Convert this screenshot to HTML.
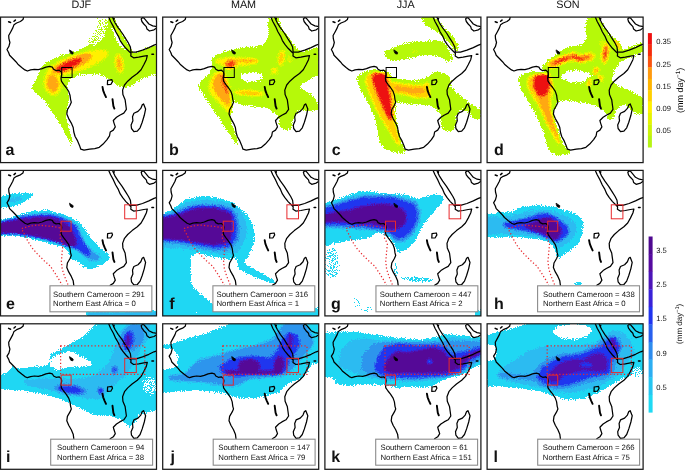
<!DOCTYPE html><html><head><meta charset="utf-8"><title>Figure</title><style>html,body{margin:0;padding:0;background:#fff}svg{display:block}text{font-family:"Liberation Sans",sans-serif;fill:#111;text-rendering:geometricPrecision}</style></head><body>
<svg width="685" height="470" viewBox="0 0 685 470">
<defs>
<filter id="warm" filterUnits="userSpaceOnUse" x="-10" y="-10" width="180" height="170" color-interpolation-filters="sRGB"><feGaussianBlur in="SourceGraphic" stdDeviation="1.3" result="b"/><feTurbulence type="fractalNoise" baseFrequency="0.75" numOctaves="2" seed="3" result="t"/><feDisplacementMap in="b" in2="t" scale="4" xChannelSelector="R" yChannelSelector="G" result="d"/><feTurbulence type="fractalNoise" baseFrequency="0.95" numOctaves="1" seed="11" result="t2"/><feColorMatrix in="t2" type="matrix" values="1 0 0 0 0 1 0 0 0 0 1 0 0 0 0 0 0 0 0 1" result="n2"/><feComposite in="d" in2="n2" operator="arithmetic" k1="0" k2="1" k3="0.16" k4="-0.080" result="sp"/><feComponentTransfer in="sp"><feFuncR type="discrete" tableValues="1.000 0.714 0.839 1.000 1.000 1.000 0.980 0.957 0.933"/><feFuncG type="discrete" tableValues="1.000 0.980 0.973 0.949 0.816 0.659 0.455 0.251 0.067"/><feFuncB type="discrete" tableValues="1.000 0.039 0.000 0.000 0.000 0.071 0.071 0.059 0.067"/></feComponentTransfer></filter>
<filter id="cool" filterUnits="userSpaceOnUse" x="-10" y="-10" width="180" height="170" color-interpolation-filters="sRGB"><feGaussianBlur in="SourceGraphic" stdDeviation="1.1" result="b"/><feTurbulence type="fractalNoise" baseFrequency="0.75" numOctaves="2" seed="3" result="t"/><feDisplacementMap in="b" in2="t" scale="3.5" xChannelSelector="R" yChannelSelector="G" result="d"/><feTurbulence type="fractalNoise" baseFrequency="0.95" numOctaves="1" seed="11" result="t2"/><feColorMatrix in="t2" type="matrix" values="1 0 0 0 0 1 0 0 0 0 1 0 0 0 0 0 0 0 0 1" result="n2"/><feComposite in="d" in2="n2" operator="arithmetic" k1="0" k2="1" k3="0.16" k4="-0.080" result="sp"/><feComponentTransfer in="sp"><feFuncR type="discrete" tableValues="1.000 0.122 0.173 0.180 0.165 0.125 0.235 0.314 0.337"/><feFuncG type="discrete" tableValues="1.000 0.847 0.737 0.588 0.400 0.212 0.133 0.063 0.039"/><feFuncB type="discrete" tableValues="1.000 0.953 0.949 0.933 0.933 0.941 0.831 0.682 0.596"/></feComponentTransfer></filter>
<clipPath id="clip"><rect x="0" y="0" width="156.0" height="145.5"/></clipPath>
<g id="coast" fill="none" stroke="#000" stroke-linejoin="round" stroke-linecap="round"><path d="M23.1,0 22.5,2.5 19.9,4.4 16.1,5.9 13.5,7.6 12.3,10.8 10.3,14.6 8.2,18.4 8.4,21.6 9.4,25.4 8.4,29.3 6.5,32.4 8.2,35.6 9.1,38.2 12.3,41.4 15.4,44.6 17.4,47.1 21.2,50.3 24.4,52.8 26.9,53.9 30.1,52.8 33.9,52.2 37.8,52.6 41.6,51.6 45.4,50 49.2,49.3 51.8,50 53.1,52.2 55.6,53.5 58.8,53.1 60.7,54.8 61.2,57 60.5,60.9 60.9,64 63.1,67.2 65.6,70.4 68.2,74.3 69.5,78.1 70.1,82.5 70.8,85.1 69.5,88.1 66.9,92.6 66.3,97 68.2,101.5 70.8,106 72.7,110.4 73.3,114.9 74.6,119.4 77.1,123.8 79,128.3 80.3,132.1 83.5,133 89.2,132.1 94.3,131.5 98.8,130.2 102.6,127 106.5,122.5 109,118.7 109.7,114.9 112.8,113 114.8,109.8 113.5,106 112.8,103.4 116,100.2 119.2,98.1 123.3,96 125.9,92.2 125.3,87.7 124.6,82.6 122.4,77.5 122.1,73 124,67.9 127.2,64.1 131.6,60.2 136.8,56.4 140.6,52.6 143.3,47.7 145.8,42.6 146.8,38.6 143.3,39.1 138.2,40.1 133.1,40.7 130.3,38.8 130.5,36.3 128.6,34.4 125.4,31.2 122.2,27.3 119.7,23.5 117.8,19 115.2,14.6 112.9,9.5 110.1,4.4 108.2,0 M112,0 113.3,3.1 114.6,5.7 117.8,10.8 121.6,15.9 124.8,21 128,26.1 129.9,29.9 130.5,35 135.6,35 142,33.1 148.4,30.5 153.5,28 156.5,27 M113.3,3.1 113.7,1.3 M140.7,1.8 141.4,4.4 143.3,6.9 145.8,9.5 146.5,12 149,13.9 153.5,12.7 156.5,10.6 M140.7,1.8 141.9,0.6 143.3,0.8 145.8,3.7 148.4,6.9 152.2,8.8 156.5,9.6 M143.1,86.9 145.1,92 143.8,98.2 141.7,105.1 139.6,110.7 136.8,114.1 133.4,114.5 131,111.4 130.6,107.9 132.4,103.7 132,99.6 133.4,96.1 137.5,94.3 140.3,91.3 141.7,87.8 143.1,86.9 M107.1,63.2 111.4,62.6 112,64.5 110.3,67.4 106.9,67.6 107.1,63.2" stroke-width="1.25"/><path d="M102,69.8 102.7,73.5 104.1,77 105.5,80 M112,82 112.5,86 112.9,89 113.9,91.5" stroke-width="1.9"/><path d="M8.1,4.6 10.1,5.4 M13.5,4.2 14.9,3 M151.4,37.2 153,37.2" stroke-width="1.5"/><path d="M69.3,33 70.8,34 72.7,35.3 72.4,37 70.4,36.6 69.5,35Z" fill="#000" stroke-width="0.8"/></g>
</defs>
<rect width="685" height="470" fill="#fff"/>
<text x="81.3" y="7.9" font-size="10.8" text-anchor="middle" fill="#000">DJF</text>
<text x="243.5" y="7.9" font-size="10.8" text-anchor="middle" fill="#000">MAM</text>
<text x="405.7" y="7.9" font-size="10.8" text-anchor="middle" fill="#000">JJA</text>
<text x="567.9" y="7.9" font-size="10.8" text-anchor="middle" fill="#000">SON</text>
<g transform="translate(0.5,17.1)">
<g clip-path="url(#clip)">
<g filter="url(#warm)"><rect x="-30" y="-30" width="220" height="210" fill="#000"/>
<polygon points="29.9,71.0 34.5,62.8 39.3,53.4 41.5,47.6 51.0,41.7 62.5,37.0 76.5,33.5 88.5,27.7 97.5,25.3 103.5,21.0 105.5,11.0 107.5,1.0 110.5,1.0 111.5,11.0 114.5,19.0 121.1,30.0 130.5,37.0 144.5,31.4 157.5,27.5 157.5,57.0 149.5,59.5 140.5,63.0 132.5,68.0 125.5,72.0 116.5,68.6 107.1,61.6 97.5,58.0 88.5,58.0 76.5,59.0 69.5,62.8 67.3,69.8 69.5,81.5 67.3,90.8 66.2,100.0 68.5,109.5 72.0,122.0 74.0,130.5 69.5,126.0 61.5,112.0 53.3,97.9 43.9,85.0 34.5,75.6" fill="#2a2a2a"/>
<polygon points="88.5,29.0 97.5,27.0 103.5,23.0 105.5,13.0 107.5,1.0 97.5,0.0 93.5,13.0 83.5,25.0" fill="#1b1b1b"/>
<polyline points="110.5,-2.0 113.5,7.0 118.0,15.0 122.5,23.0 127.0,30.0 130.0,35.0" fill="none" stroke="#2a2a2a" stroke-width="5.5" stroke-linecap="round" stroke-linejoin="round"/>
<polyline points="114.0,8.0 118.0,15.0 121.5,21.0" fill="none" stroke="#636363" stroke-width="1.2" stroke-linecap="round" stroke-linejoin="round"/>
<ellipse cx="76.5" cy="46.0" rx="33" ry="8.5" transform="rotate(-19 76.5 46.0)" fill="#636363"/>
<ellipse cx="52.1" cy="66.0" rx="9" ry="12.5" transform="rotate(-10 52.1 66.0)" fill="#636363"/>
<ellipse cx="118.8" cy="46.4" rx="4.5" ry="10" transform="rotate(-8 118.8 46.4)" fill="#636363"/>
<ellipse cx="71.5" cy="46.5" rx="22" ry="6" transform="rotate(-24 71.5 46.5)" fill="#9c9c9c"/>
<ellipse cx="52.1" cy="66.3" rx="6" ry="9" transform="rotate(-10 52.1 66.3)" fill="#9c9c9c"/>
<ellipse cx="118.8" cy="46.4" rx="2.2" ry="7" transform="rotate(-8 118.8 46.4)" fill="#9c9c9c"/>
<ellipse cx="68.5" cy="48.0" rx="14" ry="3.8" transform="rotate(-25 68.5 48.0)" fill="#f1f1f1"/>
</g>
<use href="#coast"/>
<rect x="61.2" y="50.4" width="10.4" height="10" fill="none" stroke="#000" stroke-width="1"/>
</g>
<rect x="0" y="0" width="156.0" height="145.5" fill="none" stroke="#1a1a1a" stroke-width="1.25"/>
<text x="4.9" y="138.3" font-size="16" font-weight="bold" fill="#000">a</text>
</g>
<g transform="translate(162.7,17.1)">
<g clip-path="url(#clip)">
<g filter="url(#warm)"><rect x="-30" y="-30" width="220" height="210" fill="#000"/>
<polygon points="34.4,70.1 37.9,63.1 46.1,56.0 49.6,50.2 47.3,43.2 53.1,37.3 62.5,33.8 76.5,30.3 92.9,29.1 102.2,25.6 105.7,16.3 104.6,6.9 105.7,-0.1 116.3,-0.1 118.6,9.3 125.6,18.6 132.6,28.0 139.6,35.0 149.0,31.5 157.0,29.1 157.0,58.4 149.0,61.9 139.6,67.7 137.1,66.9 139.5,71.6 148.8,76.3 154.7,83.3 157.0,92.6 146.5,94.9 137.1,92.6 130.1,104.3 129.0,112.5 120.8,113.6 115.0,107.8 116.1,101.9 111.4,96.1 104.4,91.5 92.8,90.3 76.4,87.9 69.4,83.3 67.0,94.9 70.6,108.9 76.4,125.3 75.2,130.0 69.4,123.0 62.4,111.3 53.0,97.3 43.7,83.3" fill="#2a2a2a"/>
<ellipse cx="89.0" cy="59.9" rx="11" ry="4.5" transform="rotate(0 89.0 59.9)" fill="#0e0e0e"/>
<polygon points="52.0,54.9 62.0,54.4 64.0,61.9 67.5,71.9 69.0,83.9 70.0,94.9 66.0,96.9 60.0,89.9 52.0,81.9 46.0,73.9 46.5,63.9" fill="#636363"/>
<polygon points="54.5,56.9 61.0,56.9 63.0,63.9 66.0,72.9 67.5,83.9 66.0,89.9 61.0,84.9 54.0,77.9 50.0,70.9 50.5,62.9" fill="#9c9c9c"/>
<polyline points="60.0,59.4 61.5,65.9 64.5,74.9" fill="none" stroke="#d4d4d4" stroke-width="3" stroke-linecap="round" stroke-linejoin="round"/>
<ellipse cx="74.0" cy="44.4" rx="22" ry="4.5" transform="rotate(0 74.0 44.4)" fill="#636363"/>
<ellipse cx="68.0" cy="46.9" rx="7.5" ry="5" transform="rotate(-20 68.0 46.9)" fill="#9c9c9c"/>
<ellipse cx="68.0" cy="46.9" rx="4" ry="2.8" transform="rotate(-20 68.0 46.9)" fill="#d4d4d4"/>
<ellipse cx="85.0" cy="43.4" rx="10" ry="1.6" transform="rotate(0 85.0 43.4)" fill="#9c9c9c"/>
<ellipse cx="87.0" cy="75.9" rx="16" ry="3" transform="rotate(3 87.0 75.9)" fill="#636363"/>
<ellipse cx="87.0" cy="75.9" rx="13" ry="1.2" transform="rotate(3 87.0 75.9)" fill="#9c9c9c"/>
<ellipse cx="118.6" cy="40.9" rx="3.5" ry="8" transform="rotate(10 118.6 40.9)" fill="#636363"/>
<ellipse cx="118.6" cy="40.9" rx="1.5" ry="5.5" transform="rotate(10 118.6 40.9)" fill="#9c9c9c"/>
<ellipse cx="111.6" cy="53.7" rx="3" ry="3.5" transform="rotate(0 111.6 53.7)" fill="#636363"/>
<ellipse cx="126.8" cy="41.9" rx="1.5" ry="3.5" transform="rotate(0 126.8 41.9)" fill="#636363"/>
</g>
<use href="#coast"/>
<rect x="61.2" y="50.4" width="10.4" height="10" fill="none" stroke="#000" stroke-width="1"/>
</g>
<rect x="0" y="0" width="156.0" height="145.5" fill="none" stroke="#1a1a1a" stroke-width="1.25"/>
<text x="6.2" y="138.3" font-size="16" font-weight="bold" fill="#000">b</text>
</g>
<g transform="translate(324.9,17.1)">
<g clip-path="url(#clip)">
<g filter="url(#warm)"><rect x="-30" y="-30" width="220" height="210" fill="#000"/>
<polygon points="58.7,35.0 69.3,29.1 83.3,24.5 99.7,23.3 111.4,22.1 120.7,25.6 125.4,35.0 130.1,42.0 123.1,45.5 116.1,40.8 104.4,38.5 92.7,39.7 78.6,43.2 66.9,44.3 59.9,40.8" fill="#2a2a2a"/>
<polygon points="95.0,-2.1 109.0,-2.1 120.7,11.6 130.1,21.0 134.8,32.6 130.1,35.0 123.1,25.6 113.7,16.3 104.4,11.6 97.3,4.6" fill="#2a2a2a"/>
<polygon points="30.6,59.9 34.1,71.6 41.2,83.3 48.2,97.3 51.7,111.3 54.0,125.3 59.8,132.3 69.2,135.8 80.9,137.0 79.7,131.2 73.9,120.7 69.2,106.6 66.9,94.9 70.4,85.6 78.5,86.8 92.6,87.9 104.2,89.1 111.2,92.6 115.9,98.5 114.8,106.6 118.3,113.6 127.6,114.8 132.3,109.0 131.1,99.6 137.0,92.6 144.0,96.1 148.6,103.1 157.0,102.0 157.0,92.6 148.6,87.9 139.3,80.9 132.3,75.1 126.4,69.3 126.4,61.1 120.6,55.2 108.9,54.1 101.9,59.9 92.6,62.2 78.5,62.2 69.2,59.9 60.3,54.1 50.5,51.7 38.8,54.1" fill="#2a2a2a"/>
<ellipse cx="128.9" cy="26.8" rx="1.6" ry="4" transform="rotate(-35 128.9 26.8)" fill="#636363"/>
<ellipse cx="89.2" cy="33.8" rx="3" ry="1.5" transform="rotate(0 89.2 33.8)" fill="#474747"/>
<polygon points="42.5,56.6 63.0,55.4 66.7,66.9 70.2,83.3 69.5,99.6 73.0,116.0 76.5,128.9 71.0,125.9 61.5,110.0 51.8,93.6 44.8,77.3 40.2,64.6" fill="#808080"/>
<polygon points="65.7,64.6 80.9,66.9 97.2,68.1 103.1,64.6 105.4,71.6 104.2,80.9 92.6,80.9 78.5,77.4 69.2,76.3" fill="#808080"/>
<polygon points="70.0,68.9 85.0,70.9 100.0,71.9 100.0,76.9 85.0,75.9 70.0,72.9" fill="#9c9c9c"/>
<polygon points="48.5,55.4 61.0,56.4 63.0,66.9 65.5,78.6 66.8,92.6 67.5,100.9 65.5,103.9 61.0,96.9 56.5,86.9 51.0,73.9 47.0,62.2" fill="#f1f1f1"/>
</g>
<use href="#coast"/>
<rect x="61.2" y="50.4" width="10.4" height="10" fill="none" stroke="#000" stroke-width="1"/>
</g>
<rect x="0" y="0" width="156.0" height="145.5" fill="none" stroke="#1a1a1a" stroke-width="1.25"/>
<text x="6.8" y="138.3" font-size="16" font-weight="bold" fill="#000">c</text>
</g>
<g transform="translate(487.1,17.1)">
<g clip-path="url(#clip)">
<g filter="url(#warm)"><rect x="-30" y="-30" width="220" height="210" fill="#000"/>
<polygon points="52.7,50.2 62.1,42.0 71.4,35.0 80.8,29.1 92.5,28.0 99.5,21.0 97.1,11.6 99.5,2.2 104.2,-2.1 111.2,-2.1 115.9,6.9 122.9,16.3 129.9,25.6 134.6,32.6 146.3,28.0 157.0,24.5 157.0,35.0 148.6,38.5 139.3,42.0 132.2,46.7 127.6,53.7 125.2,63.1 129.9,67.7 141.6,72.4 157.0,80.6 157.0,98.1 148.4,97.3 143.8,92.6 136.7,87.9 129.7,92.6 127.4,102.0 120.4,103.1 118.1,96.1 113.4,91.5 104.0,87.9 92.4,85.6 78.3,83.3 70.2,85.6 66.7,94.9 67.8,104.3 72.5,118.3 78.3,130.0 85.3,133.5 80.7,138.2 69.0,139.3 62.0,134.7 58.5,125.3 55.0,113.6 49.1,99.6 41.0,85.6 33.9,73.9 30.4,62.2 34.0,57.2 45.7,53.7 58.0,54.4" fill="#2a2a2a"/>
<ellipse cx="89.0" cy="59.4" rx="15" ry="6" transform="rotate(0 89.0 59.4)" fill="#0e0e0e"/>
<polygon points="41.1,59.4 62.5,56.6 66.5,69.3 64.2,80.9 63.5,92.6 67.0,104.3 74.5,127.9 69.5,124.9 58.6,105.3 52.8,91.3 45.8,79.6 40.0,69.3" fill="#808080"/>
<polygon points="48.1,57.7 61.0,57.0 63.0,65.8 61.1,74.9 56.5,80.9 51.0,78.3 46.5,70.3 45.8,63.4" fill="#f1f1f1"/>
<polygon points="52.0,79.9 60.0,77.9 63.0,91.9 67.0,104.9 72.0,120.9 68.0,116.9 60.0,101.9 54.0,89.9" fill="#9c9c9c"/>
<polyline points="64.0,47.4 76.0,42.4 86.0,38.9 93.0,41.9 103.0,39.4" fill="none" stroke="#808080" stroke-width="8" stroke-linecap="round" stroke-linejoin="round"/>
<polyline points="66.0,46.7 76.0,42.4 86.0,39.2 93.0,41.9 101.0,39.9" fill="none" stroke="#b8b8b8" stroke-width="4.4" stroke-linecap="round" stroke-linejoin="round"/>
<polyline points="69.0,45.4 80.0,41.4" fill="none" stroke="#f1f1f1" stroke-width="2.4" stroke-linecap="round" stroke-linejoin="round"/>
<polyline points="86.0,39.9 95.0,42.4" fill="none" stroke="#f1f1f1" stroke-width="2.4" stroke-linecap="round" stroke-linejoin="round"/>
<ellipse cx="118.2" cy="35.9" rx="3.8" ry="11" transform="rotate(8 118.2 35.9)" fill="#808080"/>
<ellipse cx="118.2" cy="36.4" rx="1.9" ry="8" transform="rotate(8 118.2 36.4)" fill="#d4d4d4"/>
<ellipse cx="114.7" cy="26.8" rx="2.5" ry="4" transform="rotate(0 114.7 26.8)" fill="#474747"/>
<ellipse cx="130.5" cy="27.4" rx="1.9" ry="6" transform="rotate(-33 130.5 27.4)" fill="#9c9c9c"/>
<ellipse cx="108.8" cy="53.7" rx="2.4" ry="4" transform="rotate(20 108.8 53.7)" fill="#9c9c9c"/>
<ellipse cx="101.8" cy="65.4" rx="1.8" ry="4" transform="rotate(10 101.8 65.4)" fill="#9c9c9c"/>
<ellipse cx="113.5" cy="60.7" rx="1.8" ry="3.5" transform="rotate(-20 113.5 60.7)" fill="#9c9c9c"/>
</g>
<use href="#coast"/>
<rect x="61.2" y="50.4" width="10.4" height="10" fill="none" stroke="#000" stroke-width="1"/>
</g>
<rect x="0" y="0" width="156.0" height="145.5" fill="none" stroke="#1a1a1a" stroke-width="1.25"/>
<text x="6.9" y="138.3" font-size="16" font-weight="bold" fill="#000">d</text>
</g>
<g transform="translate(0.5,170.4)">
<g clip-path="url(#clip)">
<g filter="url(#cool)"><rect x="-30" y="-30" width="220" height="210" fill="#000"/>
<polygon points="-2.0,26.5 8.9,23.0 20.6,21.8 32.2,21.8 33.4,25.3 27.6,30.0 20.6,33.5 11.2,37.0 -2.0,38.2" fill="#2a2a2a"/>
<ellipse cx="14.0" cy="29.1" rx="9" ry="2.5" transform="rotate(-12 14.0 29.1)" fill="#474747"/>
<polygon points="-2.0,49.9 13.5,46.4 25.2,41.7 36.9,39.4 48.6,39.4 60.3,42.9 69.7,46.4 79.0,51.1 86.0,60.4 93.1,69.8 102.4,79.1 109.4,83.8 108.3,90.8 100.1,95.5 90.7,99.0 83.7,97.8 76.7,90.8 69.7,89.6 67.3,81.5 62.7,76.8 51.0,74.5 39.3,70.9 25.2,67.4 11.2,65.1 -2.0,66.3" fill="#2a2a2a"/>
<polygon points="-2.0,51.5 22.9,45.2 46.3,42.9 62.7,46.4 76.7,54.6 81.4,65.1 86.0,74.5 93.1,81.5 100.1,86.1 97.7,90.8 88.4,89.6 79.0,81.5 74.4,78.0 67.3,76.8 58.0,73.3 41.6,68.6 22.9,65.1 -2.0,63.9" fill="#636363"/>
<polygon points="-2.0,51.8 21.0,45.9 46.3,43.6 62.7,47.1 75.5,55.1 80.0,65.1 84.0,73.6 90.0,80.6 89.0,86.6 82.0,83.6 77.0,79.1 67.3,76.6 58.0,72.8 41.6,68.2 22.9,64.7 -2.0,63.6" fill="#9c9c9c"/>
<polygon points="-2.0,52.6 18.2,48.9 34.6,46.6 51.0,46.6 63.5,51.2 71.0,57.6 74.8,67.4 76.0,75.6 67.3,75.6 58.0,71.9 43.9,68.4 27.6,64.9 11.2,62.6 -2.0,62.6" fill="#f1f1f1"/>
<polygon points="86.0,141.1 159.0,140.6 159.0,149.6 86.0,149.6" fill="#474747"/>
</g>
<use href="#coast"/>
<g transform="translate(0,-0.4)">
<rect x="60.6" y="51.2" width="10.0" height="10.0" fill="none" stroke="#e8282c" stroke-width="1"/>
<rect x="124.2" y="34.8" width="11.6" height="14.0" fill="none" stroke="#e8282c" stroke-width="1"/>
<polyline points="59.3,57.8 52.1,56.5 44.2,55.8 37,54.9 28.2,56.5 21,58.6 23.4,63.3 27.4,71.3 31.4,77.7 37,84.1 43.4,90.5 49.7,96 54.5,103.2 58.5,109.6 61.5,115" fill="none" stroke="#e8282c" stroke-width="1.25" stroke-dasharray="1.25 2.15"/>
<polyline points="60.1,60.9 59.3,67.3 62.5,73.7 61.7,81.7 60.9,91.3 61.7,99.2 64.1,106.4 67.6,115" fill="none" stroke="#e8282c" stroke-width="1.25" stroke-dasharray="1.25 2.15"/>
</g>
</g>
<rect x="49.45" y="115.4" width="101.9" height="26" fill="#fff" stroke="#8c8c8c" stroke-width="1.1"/>
<text x="52.6" y="126.35" font-size="7.78" fill="#000">Southern Cameroon = 291</text>
<text x="52.6" y="136.05" font-size="7.78" fill="#000">Northern East Africa = 0</text>
<rect x="0" y="0" width="156.0" height="145.5" fill="none" stroke="#1a1a1a" stroke-width="1.25"/>
<text x="5.6" y="138.3" font-size="16" font-weight="bold" fill="#000">e</text>
</g>
<g transform="translate(162.7,170.4)">
<g clip-path="url(#clip)">
<g filter="url(#cool)"><rect x="-30" y="-30" width="220" height="210" fill="#000"/>
<polygon points="-2.0,44.0 8.7,39.4 15.7,33.5 22.7,28.8 34.4,25.3 46.1,25.3 57.8,27.7 69.5,31.2 78.8,38.2 87.0,46.4 91.7,55.7 92.9,67.4 89.4,79.1 84.7,88.5 82.0,92.6 85.0,94.6 93.0,98.6 103.0,104.6 112.0,109.6 112.0,113.6 103.0,111.6 93.0,107.6 84.0,103.6 76.0,99.1 74.0,92.6 72.0,87.6 67.0,89.6 57.7,88.5 46.0,86.1 36.7,82.6 28.5,86.1 28.5,113.0 36.7,122.4 46.0,129.4 49.5,132.9 60.0,137.6 100.0,137.6 159.0,136.6 159.0,149.6 -2.0,149.6" fill="#2a2a2a"/>
<polygon points="-2.0,44.6 9.0,40.6 18.0,35.1 28.0,30.6 43.7,29.1 57.8,30.6 70.0,34.1 78.0,40.6 83.0,49.6 84.0,61.6 81.0,73.6 74.0,82.6 60.0,84.6 40.0,80.6 15.7,77.6 -2.0,77.6" fill="#474747"/>
<polygon points="-2.0,45.2 11.0,42.9 20.4,38.2 29.7,34.7 43.7,33.5 57.8,34.7 69.5,38.2 75.5,46.4 77.5,58.1 76.0,69.8 68.5,79.1 53.1,80.6 34.4,77.1 15.7,73.6 -2.0,72.6" fill="#636363"/>
<polygon points="-2.0,46.1 11.0,43.9 20.4,39.4 29.7,35.9 43.7,34.7 57.8,35.9 68.5,39.4 73.2,47.4 74.3,58.1 73.0,69.1 66.5,76.6 53.1,77.9 34.4,74.6 15.7,71.1 -2.0,69.9" fill="#9c9c9c"/>
<polygon points="-2.0,47.6 13.3,45.2 22.7,41.7 32.0,38.2 43.7,37.0 55.4,38.2 63.6,41.7 68.3,42.9 69.5,49.9 69.5,60.4 68.3,68.6 62.5,73.3 50.8,74.5 34.4,72.1 18.0,69.8 -2.0,68.6" fill="#f1f1f1"/>
</g>
<use href="#coast"/>
<g transform="translate(0,-0.4)">
<rect x="60.6" y="51.2" width="10.0" height="10.0" fill="none" stroke="#e8282c" stroke-width="1"/>
<rect x="124.2" y="34.8" width="11.6" height="14.0" fill="none" stroke="#e8282c" stroke-width="1"/>
<polyline points="59.3,57.8 52.1,56.5 44.2,55.8 37,54.9 28.2,56.5 21,58.6 23.4,63.3 27.4,71.3 31.4,77.7 37,84.1 43.4,90.5 49.7,96 54.5,103.2 58.5,109.6 61.5,115" fill="none" stroke="#e8282c" stroke-width="1.25" stroke-dasharray="1.25 2.15"/>
<polyline points="60.1,60.9 59.3,67.3 62.5,73.7 61.7,81.7 60.9,91.3 61.7,99.2 64.1,106.4 67.6,115" fill="none" stroke="#e8282c" stroke-width="1.25" stroke-dasharray="1.25 2.15"/>
</g>
</g>
<rect x="50.2" y="115.4" width="101.9" height="26" fill="#fff" stroke="#8c8c8c" stroke-width="1.1"/>
<text x="53.75" y="126.35" font-size="7.78" fill="#000">Southern Cameroon = 316</text>
<text x="53.75" y="136.05" font-size="7.78" fill="#000">Northern East Africa = 1</text>
<rect x="0" y="0" width="156.0" height="145.5" fill="none" stroke="#1a1a1a" stroke-width="1.25"/>
<text x="6.6" y="138.3" font-size="16" font-weight="bold" fill="#000">f</text>
</g>
<g transform="translate(324.9,170.4)">
<g clip-path="url(#clip)">
<g filter="url(#cool)"><rect x="-30" y="-30" width="220" height="210" fill="#000"/>
<polygon points="-2.0,33.5 10.8,28.8 22.5,24.2 34.2,20.7 48.2,20.7 59.9,23.0 69.3,23.0 81.0,24.2 92.7,27.7 102.0,25.3 111.4,23.0 118.4,25.3 119.6,30.0 113.7,37.0 106.7,45.2 99.7,53.4 95.0,62.8 90.3,72.1 83.3,79.1 76.3,82.6 71.6,81.5 69.3,74.5 64.6,67.4 59.9,63.9 50.6,62.8 45.9,67.4 34.2,69.8 22.5,70.9 10.8,73.3 -2.0,76.8" fill="#2a2a2a"/>
<ellipse cx="7.0" cy="92.6" rx="9" ry="17" transform="rotate(0 7.0 92.6)" fill="#1b1b1b"/>
<ellipse cx="36.0" cy="133.6" rx="14" ry="8" transform="rotate(20 36.0 133.6)" fill="#171717"/>
<ellipse cx="93.0" cy="109.1" rx="19" ry="3.4" transform="rotate(4 93.0 109.1)" fill="#1f1f1f"/>
<ellipse cx="71.0" cy="99.6" rx="2.6" ry="10" transform="rotate(-5 71.0 99.6)" fill="#1f1f1f"/>
<polygon points="150.0,138.6 159.0,138.6 159.0,149.6 150.0,149.6" fill="#2a2a2a"/>
<polygon points="-2.0,36.1 13.1,31.6 24.8,27.6 38.9,24.1 52.9,24.1 66.9,24.6 80.0,27.6 92.0,31.1 96.0,41.7 94.5,52.2 88.6,63.6 80.5,70.6 71.6,72.1 65.5,65.9 57.6,61.1 41.2,59.1 22.5,58.1 -2.0,57.1" fill="#636363"/>
<polygon points="-2.0,38.2 13.1,33.5 24.8,30.0 38.9,26.5 52.9,26.5 66.9,26.5 78.6,30.0 89.2,33.5 92.7,41.7 91.5,52.2 85.6,61.6 78.6,67.4 71.6,68.6 66.9,63.9 57.6,59.2 41.2,56.9 22.5,55.7 8.5,54.6 -2.0,54.6" fill="#9c9c9c"/>
<polygon points="-2.0,44.4 13.1,41.1 24.8,39.6 36.5,36.2 48.2,33.8 62.3,33.6 73.0,35.9 79.5,40.1 81.8,46.4 79.8,53.9 73.5,58.4 66.9,59.4 57.6,55.9 45.9,53.6 27.2,52.4 10.8,51.4 -2.0,51.4" fill="#f1f1f1"/>
</g>
<use href="#coast"/>
<g transform="translate(0,-0.4)">
<rect x="60.6" y="51.2" width="10.0" height="10.0" fill="none" stroke="#e8282c" stroke-width="1"/>
<rect x="124.2" y="34.8" width="11.6" height="14.0" fill="none" stroke="#e8282c" stroke-width="1"/>
<polyline points="59.3,57.8 52.1,56.5 44.2,55.8 37,54.9 28.2,56.5 21,58.6 23.4,63.3 27.4,71.3 31.4,77.7 37,84.1 43.4,90.5 49.7,96 54.5,103.2 58.5,109.6 61.5,115" fill="none" stroke="#e8282c" stroke-width="1.25" stroke-dasharray="1.25 2.15"/>
<polyline points="60.1,60.9 59.3,67.3 62.5,73.7 61.7,81.7 60.9,91.3 61.7,99.2 64.1,106.4 67.6,115" fill="none" stroke="#e8282c" stroke-width="1.25" stroke-dasharray="1.25 2.15"/>
</g>
</g>
<rect x="51.05" y="115.4" width="101.9" height="26" fill="#fff" stroke="#8c8c8c" stroke-width="1.1"/>
<text x="54.9" y="126.35" font-size="7.78" fill="#000">Southern Cameroon = 447</text>
<text x="54.9" y="136.05" font-size="7.78" fill="#000">Northern East Africa = 2</text>
<rect x="0" y="0" width="156.0" height="145.5" fill="none" stroke="#1a1a1a" stroke-width="1.25"/>
<text x="6.2" y="138.3" font-size="16" font-weight="bold" fill="#000">g</text>
</g>
<g transform="translate(487.1,170.4)">
<g clip-path="url(#clip)">
<g filter="url(#cool)"><rect x="-30" y="-30" width="220" height="210" fill="#000"/>
<polygon points="-2.0,42.9 12.9,41.7 24.6,40.5 34.0,35.9 45.7,34.7 59.7,34.7 71.4,37.0 83.1,40.5 92.5,45.2 97.1,52.2 96.0,62.8 92.5,72.1 85.4,79.1 78.4,83.8 71.4,89.7 69.1,83.8 66.7,76.8 59.7,70.9 45.7,68.6 31.6,67.4 17.6,67.4 -2.0,67.4" fill="#2a2a2a"/>
<polygon points="-2.0,46.4 17.6,46.4 29.3,44.0 41.0,40.5 55.0,39.4 69.1,41.7 80.8,46.4 89.0,53.4 89.0,62.8 83.1,70.9 73.8,76.8 69.1,79.1 64.4,72.1 52.7,67.4 34.0,65.1 17.6,63.9 -2.0,63.9" fill="#474747"/>
<polygon points="17.6,52.2 29.3,49.9 43.3,46.4 52.7,42.9 62.1,42.9 71.4,48.7 80.8,55.7 81.9,62.8 76.1,68.6 69.1,72.1 62.1,68.6 50.4,63.9 36.3,60.4 22.3,58.1 15.3,55.7" fill="#9c9c9c"/>
<polygon points="45.7,52.2 55.0,47.6 64.4,47.6 71.4,53.4 74.9,60.4 71.4,67.4 66.7,69.8 59.7,65.1 50.4,61.6 41.0,58.1 36.3,55.7" fill="#f1f1f1"/>
<ellipse cx="91.0" cy="113.4" rx="5.5" ry="2" transform="rotate(0 91.0 113.4)" fill="#2a2a2a"/>
</g>
<use href="#coast"/>
<g transform="translate(0,-0.4)">
<rect x="60.6" y="51.2" width="10.0" height="10.0" fill="none" stroke="#e8282c" stroke-width="1"/>
<rect x="124.2" y="34.8" width="11.6" height="14.0" fill="none" stroke="#e8282c" stroke-width="1"/>
<polyline points="59.3,57.8 52.1,56.5 44.2,55.8 37,54.9 28.2,56.5 21,58.6 23.4,63.3 27.4,71.3 31.4,77.7 37,84.1 43.4,90.5 49.7,96 54.5,103.2 58.5,109.6 61.5,115" fill="none" stroke="#e8282c" stroke-width="1.25" stroke-dasharray="1.25 2.15"/>
<polyline points="60.1,60.9 59.3,67.3 62.5,73.7 61.7,81.7 60.9,91.3 61.7,99.2 64.1,106.4 67.6,115" fill="none" stroke="#e8282c" stroke-width="1.25" stroke-dasharray="1.25 2.15"/>
</g>
</g>
<rect x="50.5" y="115.4" width="101.9" height="26" fill="#fff" stroke="#8c8c8c" stroke-width="1.1"/>
<text x="55.9" y="126.35" font-size="7.78" fill="#000">Southern Cameroon = 438</text>
<text x="55.9" y="136.05" font-size="7.78" fill="#000">Northern East Africa = 0</text>
<rect x="0" y="0" width="156.0" height="145.5" fill="none" stroke="#1a1a1a" stroke-width="1.25"/>
<text x="7.0" y="138.3" font-size="16" font-weight="bold" fill="#000">h</text>
</g>
<g transform="translate(0.5,323.8)">
<g clip-path="url(#clip)">
<g filter="url(#cool)"><rect x="-30" y="-30" width="220" height="210" fill="#000"/>
<polygon points="-2.0,51.8 9.0,46.2 11.2,40.1 14.0,43.7 22.9,43.6 34.6,42.5 46.3,41.3 49.0,35.2 48.6,29.6 60.3,24.9 72.0,17.9 81.4,13.2 88.4,6.2 97.7,-2.8 159.0,-2.8 159.0,86.9 146.7,89.2 139.7,90.4 133.8,99.8 130.3,104.4 123.3,99.8 118.7,95.1 109.3,92.8 93.0,91.6 78.9,84.6 64.9,77.6 46.2,71.7 22.9,67.1 -2.0,65.9" fill="#2a2a2a"/>
<polygon points="55.6,30.8 69.7,27.3 79.0,31.9 90.7,37.8 91.9,42.5 79.0,42.5 67.3,43.6 56.8,46.0 49.8,42.5 49.5,36.6" fill="#0e0e0e"/>
<ellipse cx="149.5" cy="62.2" rx="8" ry="8.5" transform="rotate(0 149.5 62.2)" fill="#1c1c1c"/>
<polygon points="20.0,57.2 40.0,54.7 60.0,54.2 75.0,55.2 95.0,51.2 108.0,39.2 114.0,24.2 120.0,7.2 130.0,-2.8 150.0,-2.8 150.0,11.2 140.0,25.2 134.0,39.2 126.0,51.2 118.0,57.2 108.0,67.2 100.0,75.2 88.0,75.2 70.0,71.2 50.0,66.2 30.0,63.2" fill="#474747"/>
<ellipse cx="70.0" cy="65.7" rx="17" ry="5.5" transform="rotate(8 70.0 65.7)" fill="#636363"/>
<ellipse cx="70.0" cy="65.9" rx="13" ry="3.6" transform="rotate(6 70.0 65.9)" fill="#9c9c9c"/>
<ellipse cx="100.1" cy="67.0" rx="3.6" ry="4" transform="rotate(0 100.1 67.0)" fill="#636363"/>
<ellipse cx="100.1" cy="67.0" rx="1.8" ry="2.6" transform="rotate(0 100.1 67.0)" fill="#b8b8b8"/>
<ellipse cx="114.1" cy="46.0" rx="4" ry="4.5" transform="rotate(0 114.1 46.0)" fill="#636363"/>
<ellipse cx="114.1" cy="46.0" rx="2" ry="2.5" transform="rotate(0 114.1 46.0)" fill="#9c9c9c"/>
<ellipse cx="131.0" cy="14.2" rx="11" ry="15" transform="rotate(35 131.0 14.2)" fill="#636363"/>
<ellipse cx="128.0" cy="16.7" rx="5" ry="10" transform="rotate(10 128.0 16.7)" fill="#9c9c9c"/>
<ellipse cx="127.0" cy="17.2" rx="2.8" ry="7" transform="rotate(5 127.0 17.2)" fill="#d4d4d4"/>
</g>
<use href="#coast"/>
<rect x="60.6" y="51.3" width="10.0" height="10.0" fill="none" stroke="#e8282c" stroke-width="1"/>
<rect x="124.2" y="34.5" width="11.6" height="14.3" fill="none" stroke="#e8282c" stroke-width="1"/>
<rect x="60.1" y="22.2" width="84.2" height="28.5" fill="none" stroke="#e8282c" stroke-width="1.25" stroke-dasharray="1.25 2.15"/>
</g>
<rect x="50.2" y="115.4" width="101.9" height="26" fill="#fff" stroke="#8c8c8c" stroke-width="1.1"/>
<text x="56.5" y="126.35" font-size="7.78" fill="#000">Southern Cameroon = 94</text>
<text x="56.5" y="136.05" font-size="7.78" fill="#000">Northern East Africa = 38</text>
<rect x="0" y="0" width="156.0" height="145.5" fill="none" stroke="#1a1a1a" stroke-width="1.25"/>
<text x="5.4" y="138.3" font-size="16" font-weight="bold" fill="#000">i</text>
</g>
<g transform="translate(162.7,323.8)">
<g clip-path="url(#clip)">
<g filter="url(#cool)"><rect x="-30" y="-30" width="220" height="210" fill="#000"/>
<polygon points="-2.0,21.4 13.3,17.9 27.4,13.2 41.4,9.7 53.1,5.0 62.5,1.5 69.5,-2.8 159.0,-2.8 159.0,39.0 149.0,41.3 144.3,49.5 139.6,55.3 132.6,57.7 125.6,60.0 120.9,64.7 116.3,69.4 106.9,71.7 97.5,74.1 88.2,74.1 78.8,75.2 69.5,72.9 57.8,69.4 46.1,68.2 32.0,67.0 18.0,68.2 -2.0,69.4" fill="#2a2a2a"/>
<polygon points="-2.0,24.9 10.0,24.9 16.0,31.9 13.5,43.6 -2.0,46.0" fill="#0e0e0e"/>
<polygon points="27.4,43.6 34.4,36.6 46.1,33.1 60.1,29.6 74.2,24.9 92.9,21.4 109.2,15.6 116.3,6.2 123.3,-2.8 139.6,-2.8 149.0,8.6 151.3,20.3 144.3,29.6 135.0,39.0 126.8,49.5 116.3,53.0 102.2,54.2 88.2,55.3 78.8,60.0 69.5,63.5 55.4,61.2 41.4,58.8 22.7,57.7 6.3,56.5 6.3,51.8 22.7,49.5" fill="#636363"/>
<polygon points="56.6,42.5 67.1,35.5 78.8,33.1 92.9,31.9 106.9,34.3 113.9,27.3 118.6,15.6 125.6,8.6 135.0,10.9 137.3,20.3 132.6,29.6 126.8,36.6 123.3,48.3 113.9,50.7 99.9,50.7 85.9,51.8 74.2,53.0 64.8,51.8 57.8,48.3" fill="#9c9c9c"/>
<ellipse cx="86.5" cy="42.2" rx="11" ry="7" transform="rotate(0 86.5 42.2)" fill="#f1f1f1"/>
<polyline points="64.0,48.5 80.0,48.2 100.0,48.7 116.0,48.2" fill="none" stroke="#f1f1f1" stroke-width="3.4" stroke-linecap="round" stroke-linejoin="round"/>
<ellipse cx="116.3" cy="41.3" rx="5" ry="9" transform="rotate(5 116.3 41.3)" fill="#f1f1f1"/>
<ellipse cx="127.3" cy="18.2" rx="2.6" ry="9" transform="rotate(8 127.3 18.2)" fill="#d4d4d4"/>
</g>
<use href="#coast"/>
<rect x="60.6" y="51.3" width="10.0" height="10.0" fill="none" stroke="#e8282c" stroke-width="1"/>
<rect x="124.2" y="34.5" width="11.6" height="14.3" fill="none" stroke="#e8282c" stroke-width="1"/>
<rect x="60.1" y="22.2" width="84.2" height="28.5" fill="none" stroke="#e8282c" stroke-width="1.25" stroke-dasharray="1.25 2.15"/>
</g>
<rect x="50.5" y="115.4" width="101.9" height="26" fill="#fff" stroke="#8c8c8c" stroke-width="1.1"/>
<text x="55.6" y="126.35" font-size="7.78" fill="#000">Southern Cameroon = 147</text>
<text x="55.6" y="136.05" font-size="7.78" fill="#000">Northern East Africa = 79</text>
<rect x="0" y="0" width="156.0" height="145.5" fill="none" stroke="#1a1a1a" stroke-width="1.25"/>
<text x="7.8" y="138.3" font-size="16" font-weight="bold" fill="#000">j</text>
</g>
<g transform="translate(324.9,323.8)">
<g clip-path="url(#clip)">
<g filter="url(#cool)"><rect x="-30" y="-30" width="220" height="210" fill="#000"/>
<polygon points="-2.0,8.6 13.1,7.4 29.5,7.4 45.9,9.7 64.6,12.1 81.0,14.4 97.3,15.6 109.0,13.2 120.7,9.7 134.8,10.9 146.5,12.1 159.0,13.2 159.0,41.3 148.8,43.6 139.5,49.5 134.8,51.8 125.4,54.2 116.1,57.7 106.7,63.5 97.3,64.7 85.6,63.5 74.0,64.7 62.3,62.4 50.6,61.2 36.5,61.2 22.5,62.4 10.8,61.2 8.5,55.3 -2.0,53.0" fill="#2a2a2a"/>
<polygon points="13.1,41.3 15.5,27.3 24.8,16.7 41.2,14.4 59.9,17.9 81.0,17.9 99.7,19.1 116.1,16.7 125.4,13.2 139.5,14.4 159.0,16.7 159.0,34.3 144.1,44.8 134.8,50.7 120.7,54.2 106.7,56.5 92.7,57.7 76.3,57.7 59.9,56.5 45.9,54.2 31.8,49.5 20.2,46.0" fill="#474747"/>
<polygon points="36.0,45.2 38.0,31.2 48.0,20.2 60.0,17.4 159.0,17.2 159.0,33.2 140.0,47.2 120.0,53.7 92.0,56.2 62.0,55.2 46.0,51.7" fill="#636363"/>
<polygon points="49.4,43.6 52.9,31.9 59.9,22.6 74.0,19.1 92.7,21.4 109.0,20.3 120.7,22.6 126.6,29.6 139.5,27.3 159.0,21.4 159.0,29.6 144.1,37.8 137.1,48.3 125.4,51.8 109.0,53.0 92.7,54.2 76.3,54.2 62.3,53.0 52.9,49.5" fill="#9c9c9c"/>
<polygon points="58.8,43.6 63.4,34.3 71.6,27.3 83.3,28.4 95.0,26.1 109.0,23.8 118.4,27.3 124.2,34.3 134.8,34.3 148.8,28.4 159.0,24.9 159.0,28.4 141.8,36.6 134.8,43.6 125.4,48.3 111.4,49.5 97.3,49.5 81.0,49.5 66.9,49.5 59.9,47.2" fill="#f1f1f1"/>
<ellipse cx="104.4" cy="37.8" rx="2.5" ry="2.5" transform="rotate(0 104.4 37.8)" fill="#808080"/>
</g>
<use href="#coast"/>
<rect x="60.6" y="51.3" width="10.0" height="10.0" fill="none" stroke="#e8282c" stroke-width="1"/>
<rect x="124.2" y="34.5" width="11.6" height="14.3" fill="none" stroke="#e8282c" stroke-width="1"/>
<rect x="60.1" y="22.2" width="84.2" height="28.5" fill="none" stroke="#e8282c" stroke-width="1.25" stroke-dasharray="1.25 2.15"/>
</g>
<rect x="50.8" y="115.4" width="101.9" height="26" fill="#fff" stroke="#8c8c8c" stroke-width="1.1"/>
<text x="55.6" y="126.35" font-size="7.78" fill="#000">Southern Cameroon = 61</text>
<text x="55.6" y="136.05" font-size="7.78" fill="#000">Northern East Africa = 151</text>
<rect x="0" y="0" width="156.0" height="145.5" fill="none" stroke="#1a1a1a" stroke-width="1.25"/>
<text x="6.3" y="138.3" font-size="16" font-weight="bold" fill="#000">k</text>
</g>
<g transform="translate(487.1,323.8)">
<g clip-path="url(#clip)">
<g filter="url(#cool)"><rect x="-30" y="-30" width="220" height="210" fill="#000"/>
<polygon points="-2.0,10.9 10.6,7.4 24.6,3.9 34.0,1.5 45.7,-2.8 159.0,-2.8 159.0,46.0 148.6,49.5 139.3,54.2 129.9,57.7 122.9,62.4 115.9,67.0 106.5,71.7 97.1,75.2 87.8,76.4 78.4,76.4 69.1,72.9 57.4,69.4 45.7,67.0 29.3,64.7 12.9,63.5 -2.0,62.4" fill="#2a2a2a"/>
<polygon points="65.6,8.6 69.1,2.7 83.1,0.4 99.5,1.5 105.3,6.2 99.5,13.2 87.8,15.6 73.8,14.4" fill="#0e0e0e"/>
<ellipse cx="151.0" cy="48.2" rx="7" ry="5.5" transform="rotate(0 151.0 48.2)" fill="#1c1c1c"/>
<polygon points="8.3,53.0 12.9,46.0 27.0,36.6 41.0,27.3 55.0,22.6 73.8,21.4 92.5,21.4 108.8,19.1 118.2,10.9 125.2,6.2 136.9,8.6 143.9,17.9 148.6,29.6 139.3,39.0 132.2,50.7 122.9,56.5 111.2,62.4 97.1,67.0 83.1,69.4 69.1,68.2 55.0,64.7 38.7,61.2 22.3,57.7" fill="#474747"/>
<polygon points="-2.0,21.2 8.0,21.2 9.0,29.2 7.0,36.2 -2.0,37.2" fill="#0e0e0e"/>
<polyline points="14.0,51.7 30.0,52.7 45.0,54.7 60.0,55.2" fill="none" stroke="#636363" stroke-width="5" stroke-linecap="round" stroke-linejoin="round"/>
<polygon points="44.0,53.2 50.0,43.2 60.0,35.2 76.0,29.2 92.0,28.2 108.0,21.2 122.0,11.2 132.0,13.2 136.0,23.2 130.0,35.2 127.0,49.2 118.0,55.2 100.0,59.2 84.0,64.2 68.0,65.7 52.0,61.7" fill="#636363"/>
<polygon points="49.2,54.2 55.0,44.8 64.4,37.8 78.4,31.9 92.5,30.8 104.2,26.1 113.5,22.6 120.5,15.6 127.6,13.2 133.4,22.6 129.9,31.9 124.0,39.0 122.9,49.5 113.5,51.8 101.8,54.2 92.5,57.7 80.8,61.2 69.1,62.4 57.4,60.0" fill="#9c9c9c"/>
<polygon points="64.4,46.0 73.8,39.0 85.4,35.5 97.1,35.5 106.5,29.6 115.9,29.6 120.5,36.6 119.4,47.2 108.8,48.3 97.1,47.2 85.4,49.5 76.1,51.8 71.4,57.7 64.4,58.8 59.7,54.2" fill="#d4d4d4"/>
<ellipse cx="99.0" cy="41.2" rx="6" ry="2.5" transform="rotate(0 99.0 41.2)" fill="#9c9c9c"/>
<ellipse cx="126.4" cy="20.3" rx="2.4" ry="7" transform="rotate(-15 126.4 20.3)" fill="#d4d4d4"/>
<ellipse cx="56.2" cy="43.6" rx="2" ry="1.6" transform="rotate(0 56.2 43.6)" fill="#9c9c9c"/>
</g>
<use href="#coast"/>
<rect x="60.6" y="51.3" width="10.0" height="10.0" fill="none" stroke="#e8282c" stroke-width="1"/>
<rect x="124.2" y="34.5" width="11.6" height="14.3" fill="none" stroke="#e8282c" stroke-width="1"/>
<rect x="60.1" y="22.2" width="84.2" height="28.5" fill="none" stroke="#e8282c" stroke-width="1.25" stroke-dasharray="1.25 2.15"/>
</g>
<rect x="50.6" y="115.4" width="101.9" height="26" fill="#fff" stroke="#8c8c8c" stroke-width="1.1"/>
<text x="55.7" y="126.35" font-size="7.78" fill="#000">Southern Cameroon = 266</text>
<text x="55.7" y="136.05" font-size="7.78" fill="#000">Northern East Africa = 75</text>
<rect x="0" y="0" width="156.0" height="145.5" fill="none" stroke="#1a1a1a" stroke-width="1.25"/>
<text x="6.4" y="138.3" font-size="16" font-weight="bold" fill="#000">l</text>
</g>
<rect x="647.9" y="33.10" width="4.0" height="11.71" fill="#ef1010"/>
<rect x="647.9" y="44.51" width="4.0" height="11.71" fill="#f62c0c"/>
<rect x="647.9" y="55.92" width="4.0" height="11.71" fill="#fa5410"/>
<rect x="647.9" y="67.33" width="4.0" height="11.71" fill="#ff9a10"/>
<rect x="647.9" y="78.74" width="4.0" height="11.71" fill="#ffb400"/>
<rect x="647.9" y="90.15" width="4.0" height="11.71" fill="#ffd000"/>
<rect x="647.9" y="101.56" width="4.0" height="11.71" fill="#fff000"/>
<rect x="647.9" y="112.97" width="4.0" height="11.71" fill="#e6f400"/>
<rect x="647.9" y="124.38" width="4.0" height="11.71" fill="#ccf408"/>
<rect x="647.9" y="135.79" width="4.0" height="11.71" fill="#b6f414"/>
<text x="656.2" y="44.3" font-size="7.6">0.35</text>
<text x="656.2" y="66.5" font-size="7.6">0.25</text>
<text x="656.2" y="88.6" font-size="7.6">0.15</text>
<text x="656.2" y="110.8" font-size="7.6">0.09</text>
<text x="656.2" y="133.0" font-size="7.6">0.05</text>
<text transform="translate(682.7,90.4) rotate(-90)" font-size="9" text-anchor="middle">(mm day<tspan dy="-3.2" font-size="6.3">−1</tspan><tspan dy="3.2">)</tspan></text>
<rect x="648.6" y="236.50" width="4.0" height="17.88" fill="#4e0890"/>
<rect x="648.6" y="254.08" width="4.0" height="17.88" fill="#560aa0"/>
<rect x="648.6" y="271.66" width="4.0" height="17.88" fill="#4c14b8"/>
<rect x="648.6" y="289.24" width="4.0" height="17.88" fill="#3a22d8"/>
<rect x="648.6" y="306.82" width="4.0" height="17.88" fill="#2034f0"/>
<rect x="648.6" y="324.40" width="4.0" height="17.88" fill="#2860ee"/>
<rect x="648.6" y="341.98" width="4.0" height="17.88" fill="#2e8cee"/>
<rect x="648.6" y="359.56" width="4.0" height="17.88" fill="#2caef2"/>
<rect x="648.6" y="377.14" width="4.0" height="17.88" fill="#26c6f2"/>
<rect x="648.6" y="394.72" width="4.0" height="17.88" fill="#1fdaf4"/>
<text x="656.2" y="253.0" font-size="7.6">3.5</text>
<text x="656.2" y="287.2" font-size="7.6">2.5</text>
<text x="656.2" y="321.4" font-size="7.6">1.5</text>
<text x="656.2" y="355.6" font-size="7.6">0.9</text>
<text x="656.2" y="389.8" font-size="7.6">0.5</text>
<text transform="translate(681.5,323.8) rotate(-90)" font-size="8" text-anchor="middle">(mm day<tspan dy="-2.9" font-size="5.6">−1</tspan><tspan dy="2.9">)</tspan></text>
</svg></body></html>
